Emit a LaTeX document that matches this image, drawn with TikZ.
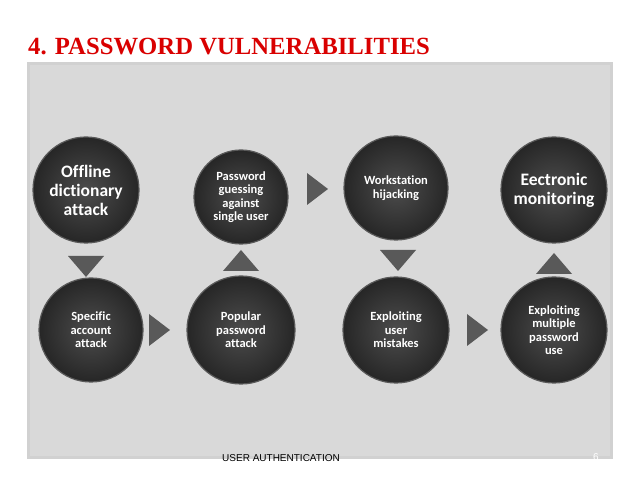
\documentclass[tikz,border=0pt]{standalone}
\usepackage{fontspec}
\setmainfont[Ligatures={NoCommon}]{Carlito}
\newfontfamily\timesf{Liberation Serif}
\newfontfamily\arialf{Liberation Sans}
\begin{document}
\begin{tikzpicture}[x=1pt,y=-1pt,
  ball/.style={circle,draw=gray!70!black,line width=1.2pt,inner color=gray!60!black,outer color=black!85,text=white,font=\bfseries\fontsize{12.5}{13.5}\selectfont,align=center,minimum size=#1,inner sep=0pt},
  big/.style={font=\bfseries\fontsize{17.5}{19}\selectfont},
  tri/.style={fill=black!65}]
\useasboundingbox (0,0) rectangle (638,478);
\fill[white] (0,0) rectangle (638,478);
\node[anchor=west,inner sep=0pt,text=red!85!black,font=\timesf\bfseries\fontsize{24.7}{26}\selectfont] (title) at (28,47) {4. PASSWORD VULNERABILITIES};
\fill[black!18] (27,62) rectangle (613,459);
\fill[black!15] (30,65) rectangle (610,456);
\node[ball=106pt,big] (a) at (86,190) {Offline\\dictionary\\attack};
\node[ball=94pt] (b) at (241,197) {Password\\guessing\\against\\single user};
\node[ball=104pt] (c) at (396,188) {Workstation\\hijacking};
\node[ball=106pt,big] (d) at (554,190) {Eectronic\\monitoring};
\node[ball=104pt] (e) at (91,330) {Specific\\account\\attack};
\node[ball=108pt] (f) at (241,330) {Popular\\password\\attack};
\node[ball=106pt] (g) at (396,330) {Exploiting\\user\\mistakes};
\node[ball=106pt] (h) at (554,330) {Exploiting\\multiple\\password\\use};
\fill[tri] (68,256) -- (104,256) -- (86,277) -- cycle;
\fill[tri] (223,271) -- (259,271) -- (241,250) -- cycle;
\fill[tri] (380,250) -- (416,250) -- (398,271) -- cycle;
\fill[tri] (536,274) -- (572,274) -- (554,253) -- cycle;
\fill[tri] (307,173) -- (307,205) -- (328,189) -- cycle;
\fill[tri] (149,314) -- (149,346) -- (170,330) -- cycle;
\fill[tri] (467,314) -- (467,346) -- (488,330) -- cycle;
\node[font=\arialf\fontsize{10}{11}\selectfont] (foot) at (281,458) {USER AUTHENTICATION};
\node[text=white,font=\arialf\fontsize{10}{11}\selectfont] (num) at (596,457) {6};
\end{tikzpicture}
\end{document}
